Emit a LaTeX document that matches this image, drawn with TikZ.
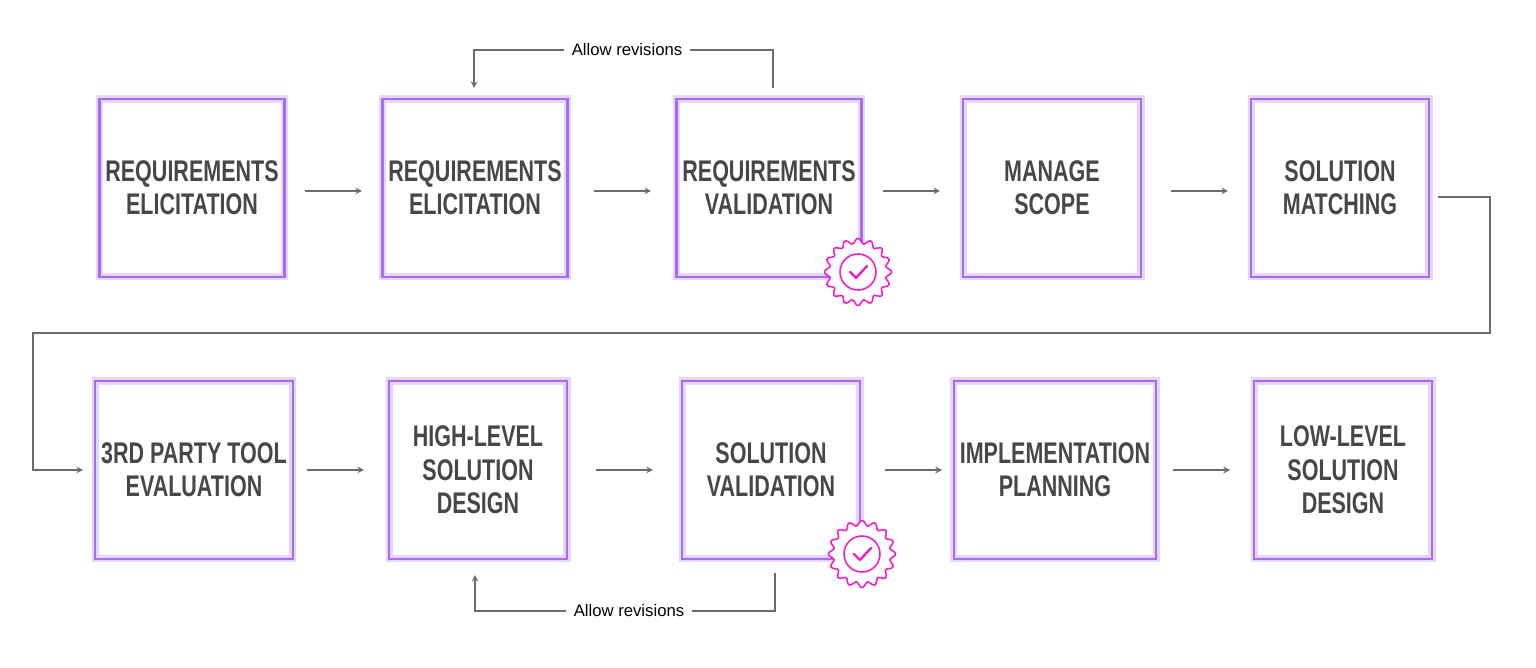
\documentclass[tikz,border=0pt]{standalone}
\usepackage{fontspec}
\setmainfont{Liberation Sans}
\newfontfamily\stepfont[FakeStretch=0.72]{Liberation Sans Bold}
\usetikzlibrary{positioning}
\definecolor{boxpurple}{HTML}{A66CF2}
\definecolor{glowpurple}{HTML}{E6D6FB}
\definecolor{txtgrey}{HTML}{474747}
\definecolor{sealpink}{HTML}{F020C8}
\tikzset{
  stepbox/.style={draw=boxpurple,line width=1.2pt,minimum width=3.56cm,minimum height=3.56cm,
    align=center,text=txtgrey,font=\stepfont\fontsize{17}{19}\selectfont,
    preaction={draw=glowpurple,line width=4pt}},
  flow/.style={->,>=stealth,draw=txtgrey!80,line width=0.7pt},
  revlabel/.style={font=\fontsize{9.5}{11}\selectfont,text=black,fill=white,inner sep=4pt}
}
\newcommand{\sealmark}[1]{%
  \fill[white,draw=sealpink,line width=0.9pt] plot[domain=0:360,samples=161,smooth]
    ({#1}) ++(\x:{0.6+0.05*cos(16*\x)}) -- cycle;
}
\begin{document}
\begin{tikzpicture}[x=0.02cm,y=-0.02cm]
\useasboundingbox (0,0) rectangle (1536,668);
% top row
\node[stepbox] (re1) at (192,188) {REQUIREMENTS\\ELICITATION};
\node[stepbox] (re2) at (475,188) {REQUIREMENTS\\ELICITATION};
\node[stepbox] (rv) at (769,188) {REQUIREMENTS\\VALIDATION};
\node[stepbox] (ms) at (1052,188) {MANAGE\\SCOPE};
\node[stepbox] (sm) at (1340,188) {SOLUTION\\MATCHING};
% bottom row
\node[stepbox] (tp) at (194,470) {3RD PARTY TOOL\\EVALUATION};
\node[stepbox] (hl) at (478,470) {HIGH-LEVEL\\SOLUTION\\DESIGN};
\node[stepbox] (sv) at (771,470) {SOLUTION\\VALIDATION};
\node[stepbox] (ip) at (1055,470) {IMPLEMENTATION\\PLANNING};
\node[stepbox] (ll) at (1343,470) {LOW-LEVEL\\SOLUTION\\DESIGN};

\draw[flow] (305,191) -- (362,191);
\draw[flow] (594,191) -- (651,191);
\draw[flow] (883,191) -- (940,191);
\draw[flow] (1171,191) -- (1228,191);
\draw[flow] (307,470) -- (364,470);
\draw[flow] (596,470) -- (653,470);
\draw[flow] (885,470) -- (942,470);
\draw[flow] (1173,470) -- (1230,470);

% wrap between rows
\draw[flow] (1438,197) -- (1490,197) -- (1490,333) -- (33,333) -- (33,470) -- (83,470);

% revision loops
\node[revlabel] (revtop) at (627,50) {Allow revisions};
\node[revlabel] (revbot) at (629,611) {Allow revisions};
\draw[flow] (773,88) |- (revtop.east) (revtop.west) -| (474,88);
\draw[flow] (775,573) |- (revbot.east) (revbot.west) -| (475,575);

% seals
\foreach \cx/\cy in {858/272,862/554}{
  \fill[white,draw=sealpink,line width=0.9pt] plot[domain=0:360,samples=241,smooth]
    ({\cx*0.02cm+cos(\x)*(0.62cm+0.05cm*cos(16*\x))},{-\cy*0.02cm+sin(\x)*(0.62cm+0.05cm*cos(16*\x))}) -- cycle;
  \draw[sealpink,line width=0.9pt] (\cx,\cy) circle[radius=0.36cm];
  \draw[sealpink,line width=1.4pt,line cap=round,line join=round]
    (\cx-8,\cy) -- (\cx-2,\cy+6) -- (\cx+9,\cy-6);
}
\end{tikzpicture}
\end{document}
